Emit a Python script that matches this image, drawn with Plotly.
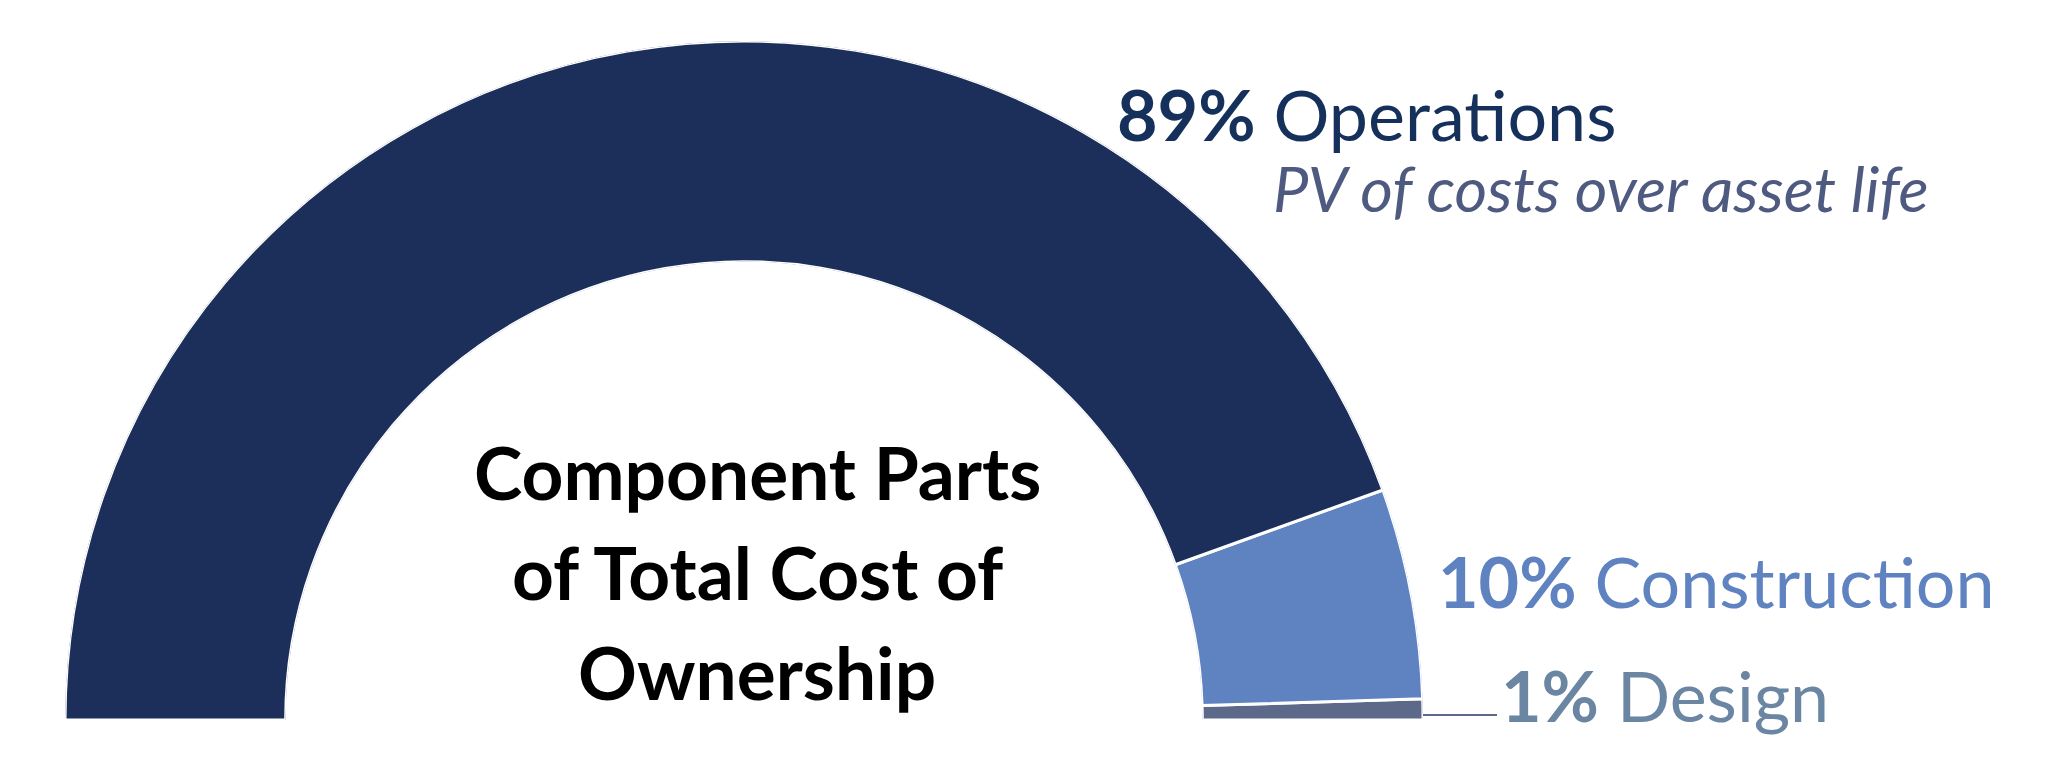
import numpy as np
import plotly.graph_objects as go

# data, listed from the right end of the arc (0 deg) to the left end (180 deg)
segments = ["Design", "Construction", "Operations"]
shares = [1, 10, 89]
seg_colors = ["#5d6989", "#5f82c0", "#1c2e5a"]
label_colors = ["#6b86a2", "#5f82c0", "#16305c"]
sub_label = "PV of costs over asset life"
title_lines = ["Component Parts", "of Total Cost of", "Ownership"]

W, H = 2048, 776

# half donut: 100% maps to 180 degrees
deg = np.array(shares) * 180.0 / sum(shares)
start = np.concatenate([[0], np.cumsum(deg)[:-1]])
theta = start + deg / 2

fig = go.Figure()
fig.add_trace(go.Barpolar(
    r=[1] * len(shares),
    theta=theta,
    width=deg,
    marker=dict(color=seg_colors, line=dict(color="white", width=3)),
    text=segments,
    hoverinfo="text",
))

fig.update_layout(
    width=W, height=H,
    margin=dict(l=0, r=0, t=0, b=0),
    paper_bgcolor="white",
    plot_bgcolor="white",
    showlegend=False,
    font=dict(family="Lato", color="black"),
    polar=dict(
        domain=dict(x=[57 / W, 1415 / W], y=[64 / H, 743 / H]),
        sector=[0, 180],
        hole=0.675,
        bgcolor="white",
        radialaxis=dict(range=[0, 1], visible=False),
        angularaxis=dict(visible=False, rotation=0, direction="counterclockwise"),
    ),
)

def px(x, y):
    return x / W, 1 - y / H

# segment labels (operations, construction, design)
label_pos = {"Operations": (1107, 106), "Construction": (1428, 573), "Design": (1491, 687)}
for name, share, col in zip(segments, shares, label_colors):
    x, y = px(*label_pos[name])
    fig.add_annotation(
        x=x, y=y, xref="paper", yref="paper", xanchor="left", yanchor="middle",
        text=f"<b>{share}%</b> {name}", showarrow=False,
        font=dict(size=70, color=col, family="Lato"),
    )

x, y = px(1263, 179)
fig.add_annotation(
    x=x, y=y, xref="paper", yref="paper", xanchor="left", yanchor="middle",
    text=f"<i>{sub_label}</i>", showarrow=False,
    font=dict(size=63, color="#4e5a80", family="Lato"),
)

# centre title, one annotation per line
for i, line in enumerate(title_lines):
    x, y = px(749, 464 + i * 100)
    fig.add_annotation(
        x=x, y=y, xref="paper", yref="paper", xanchor="center", yanchor="middle",
        text=f"<b>{line}</b>", showarrow=False,
        font=dict(size=73, color="black", family="Lato"),
    )

# leader line to the design label
fig.add_shape(type="line", xref="paper", yref="paper",
              x0=1415 / W, x1=1489 / W, y0=1 - 707 / H, y1=1 - 707 / H,
              line=dict(color="#5d6989", width=2))

fig.write_html("out.html")
